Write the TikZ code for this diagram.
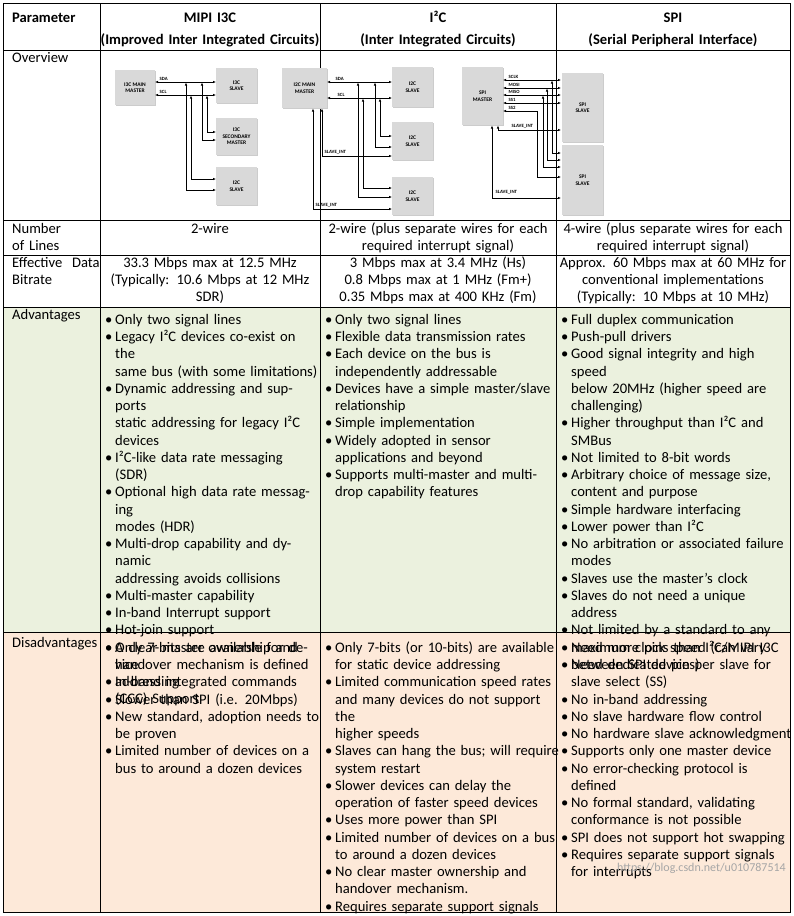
\documentclass[tikz,border=0pt]{standalone}
\usepackage{fontspec}
\setmainfont{Carlito}
\usetikzlibrary{arrows.meta}
\definecolor{advg}{HTML}{EBF1DE}
\definecolor{disr}{HTML}{FDE9D9}
\definecolor{boxg}{HTML}{D9D9D9}
\newcommand\bl[1]{\par\hangindent=10pt\hangafter=1\noindent\strut\makebox[10pt][l]{\textbullet}#1\strut\par}
\newcommand\tl[1]{\strut#1\strut\par}
\tikzset{
 cell/.style={anchor=north west,inner sep=0pt,text width=#1,align=left,font=\fontsize{14.6}{17.25}\selectfont},
 ccell/.style={anchor=north,inner sep=0pt,text width=#1,align=center,font=\fontsize{14.6}{17.25}\selectfont},
 grid/.style={line width=0.8pt},
 dev/.style={fill=boxg,draw=none,inner sep=0pt,align=center,font=\fontsize{5.5}{6.5}\selectfont\bfseries},
 sig/.style={line width=0.6pt,{Latex[length=3pt,width=2.5pt]}-{Latex[length=3pt,width=2.5pt]}},
 sigr/.style={line width=0.6pt,-{Latex[length=3pt,width=2.5pt]}},
 lab/.style={font=\fontsize{4.8}{5}\selectfont\bfseries,inner sep=0.5pt,anchor=south west},
}
\begin{document}
\begin{tikzpicture}[x=1pt,y=-1pt]
\useasboundingbox (0,0) rectangle (793,916);
\fill[white] (0,0) rectangle (793,916);
\fill[advg] (3,307) rectangle (790,632);
\fill[disr] (3,632) rectangle (790,912);
% grid
\draw[grid] (3,3) rectangle (790,912);
\foreach \x in {100,320,556} \draw[grid] (\x,3) -- (\x,912);
\foreach \y in {50,220,255,307,632} \draw[grid] (3,\y) -- (790,\y);
% headers
\node[cell=90pt,font=\fontsize{14.6}{17.25}\selectfont\bfseries] (h1) at (12,10) {\tl{Parameter}};
\node[ccell=220pt,font=\fontsize{14.6}{22}\selectfont\bfseries] (h2) at (210,7) {\tl{MIPI I3C}\tl{(Improved Inter Integrated Circuits)}};
\node[ccell=236pt,font=\fontsize{14.6}{22}\selectfont\bfseries] (h3) at (438,7) {\tl{I²C}\tl{(Inter Integrated Circuits)}};
\node[ccell=234pt,font=\fontsize{14.6}{22}\selectfont\bfseries] (h4) at (673,7) {\tl{SPI}\tl{(Serial Peripheral Interface)}};
% row labels
\node[cell=90pt] (r1) at (12,50) {\tl{Overview}};
\node[cell=90pt] (r2) at (12,221) {\tl{Number}\tl{of Lines}};
\node[cell=90pt] (r3) at (12,255) {\tl{Effective\ \ Data}\tl{Bitrate}};
\node[cell=90pt] (r4) at (12,307) {\tl{Advantages}};
\node[cell=90pt] (r5) at (12,635) {\tl{Disadvantages}};
% number of lines
\node[ccell=220pt] (n2) at (210,221) {\tl{2-wire}};
\node[ccell=236pt] (n3) at (438,221) {\tl{2-wire (plus separate wires for each}\tl{required interrupt signal)}};
\node[ccell=234pt] (n4) at (673,221) {\tl{4-wire (plus separate wires for each}\tl{required interrupt signal)}};
% bitrate
\node[ccell=220pt] (b2) at (210,255) {\tl{33.3 Mbps max at 12.5 MHz}\tl{(Typically: 10.6 Mbps at 12 MHz}\tl{SDR)}};
\node[ccell=236pt] (b3) at (438,255) {\tl{3 Mbps max at 3.4 MHz (Hs)}\tl{0.8 Mbps max at 1 MHz (Fm+)}\tl{0.35 Mbps max at 400 KHz (Fm)}};
\node[ccell=234pt] (b4) at (673,255) {\tl{Approx. 60 Mbps max at 60 MHz for}\tl{conventional implementations}\tl{(Typically: 10 Mbps at 10 MHz)}};
% advantages
\node[cell=214pt] (a2) at (105,307) {%
\bl{Only two signal lines}
\bl{Legacy I²C devices co-exist on the\newline same bus (with some limitations)}
\bl{Dynamic addressing and supports\newline static addressing for legacy I²C\newline devices}
\bl{I²C-like data rate messaging (SDR)}
\bl{Optional high data rate messaging\newline modes (HDR)}
\bl{Multi-drop capability and dynamic\newline addressing avoids collisions}
\bl{Multi-master capability}
\bl{In-band Interrupt support}
\bl{Hot-join support}
\bl{A clear master ownership and\newline handover mechanism is defined}
\bl{In-band integrated commands\newline (CCC) Support}};
\node[cell=234pt] (a3) at (325,307) {%
\bl{Only two signal lines}
\bl{Flexible data transmission rates}
\bl{Each device on the bus is\newline independently addressable}
\bl{Devices have a simple master/slave\newline relationship}
\bl{Simple implementation}
\bl{Widely adopted in sensor\newline applications and beyond}
\bl{Supports multi-master and multi-\newline drop capability features}};
\node[cell=232pt] (a4) at (561,307) {%
\bl{Full duplex communication}
\bl{Push-pull drivers}
\bl{Good signal integrity and high speed\newline below 20MHz (higher speed are\newline challenging)}
\bl{Higher throughput than I²C and\newline SMBus}
\bl{Not limited to 8-bit words}
\bl{Arbitrary choice of message size,\newline content and purpose}
\bl{Simple hardware interfacing}
\bl{Lower power than I²C}
\bl{No arbitration or associated failure\newline modes}
\bl{Slaves use the master's clock}
\bl{Slaves do not need a unique address}
\bl{Not limited by a standard to any\newline maximum clock speed (can vary\newline between SPI devices)}};
% disadvantages
\node[cell=214pt] (d2) at (105,635) {%
\bl{Only 7-bits are available for device\newline addressing}
\bl{Slower than SPI (i.e. 20Mbps)}
\bl{New standard, adoption needs to\newline be proven}
\bl{Limited number of devices on a\newline bus to around a dozen devices}};
\node[cell=234pt] (d3) at (325,635) {%
\bl{Only 7-bits (or 10-bits) are available\newline for static device addressing}
\bl{Limited communication speed rates\newline and many devices do not support the\newline higher speeds}
\bl{Slaves can hang the bus; will require\newline system restart}
\bl{Slower devices can delay the\newline operation of faster speed devices}
\bl{Uses more power than SPI}
\bl{Limited number of devices on a bus\newline to around a dozen devices}
\bl{No clear master ownership and\newline handover mechanism.}
\bl{Requires separate support signals for\newline interrupts}};
\node[cell=232pt] (d4) at (561,635) {%
\bl{Need more pins than I²C/MIPI I3C}
\bl{Need dedicated pin per slave for\newline slave select (SS)}
\bl{No in-band addressing}
\bl{No slave hardware flow control}
\bl{No hardware slave acknowledgment}
\bl{Supports only one master device}
\bl{No error-checking protocol is\newline defined}
\bl{No formal standard, validating\newline conformance is not possible}
\bl{SPI does not support hot swapping}
\bl{Requires separate support signals\newline for interrupts}};
\node[font=\fontsize{12}{12}\selectfont,text=gray!70,anchor=east,inner sep=0pt] (wm) at (786,868) {https://blog.csdn.net/u010787514};

% ---------- I3C diagram ----------
\fill[gray!40] (116,71) rectangle (156,106);
\node[dev,minimum width=40pt,minimum height=35pt] (m3) at (135,87.5) {I3C MAIN\\MASTER};
\fill[gray!40] (217,69) rectangle (258,104);
\node[dev,minimum width=41pt,minimum height=35pt] (s3) at (236.5,85.5) {I3C\\SLAVE};
\fill[gray!40] (217,119) rectangle (258,156);
\node[dev,minimum width=41pt,minimum height=37pt] (sm3) at (236.5,136.5) {I3C\\SECONDARY\\MASTER};
\fill[gray!40] (217,168) rectangle (258,206);
\node[dev,minimum width=41pt,minimum height=38pt] (is3) at (236.5,186) {I2C\\SLAVE};
\draw[sig] (155,82) -- (216,82); \node[lab] at (159,81) {SDA};
\draw[sig] (155,95) -- (216,95); \node[lab] at (159,94) {SCL};
\draw[sigr] (186,190) -- (186,82.5); \draw[sigr] (186,190) -- (216,190);
\draw[sigr] (191,179) -- (191,95.5); \draw[sigr] (191,179) -- (216,179);
\draw[sigr] (202,140) -- (202,82.5); \draw[sigr] (202,140) -- (216,140);
\draw[sigr] (207,132) -- (207,95.5); \draw[sigr] (207,132) -- (216,132);

% ---------- I2C diagram ----------
\fill[gray!40] (283,69) rectangle (328,109);
\node[dev,minimum width=45pt,minimum height=40pt] (m2) at (304.5,88) {I2C MAIN\\MASTER};
\fill[gray!40] (393,68) rectangle (434,108);
\node[dev,minimum width=41pt,minimum height=40pt] (s21) at (412.5,87) {I2C\\SLAVE};
\fill[gray!40] (393,123) rectangle (434,161);
\node[dev,minimum width=41pt,minimum height=38pt] (s22) at (412.5,141) {I2C\\SLAVE};
\fill[gray!40] (393,178) rectangle (434,216);
\node[dev,minimum width=41pt,minimum height=38pt] (s23) at (412.5,196) {I2C\\SLAVE};
\draw[sig] (327,82) -- (392,82); \node[lab] at (335,81) {SDA};
\draw[sig] (327,98) -- (392,98); \node[lab] at (337,97) {SCL};
\draw[sigr] (358,197) -- (358,82.5); \draw[sigr] (358,197) -- (392,197);
\draw[sigr] (363,188) -- (363,98.5); \draw[sigr] (363,188) -- (392,188);
\draw[sigr] (375,147) -- (375,82.5); \draw[sigr] (375,147) -- (392,147);
\draw[sigr] (380,136) -- (380,98.5); \draw[sigr] (380,136) -- (392,136);
\draw[sig] (322,108.5) -- (322,156) -- (392,156); \node[lab] at (324,155) {SLAVE\_INT};
\draw[sig] (313,108.5) -- (313,209) -- (392,209); \node[lab] at (315,208) {SLAVE\_INT};

% ---------- SPI diagram ----------
\fill[gray!40] (463,68) rectangle (504,126);
\node[dev,minimum width=41pt,minimum height=58pt] (ms) at (482.5,96) {SPI\\MASTER};
\fill[gray!40] (563,74) rectangle (604,143);
\node[dev,minimum width=41pt,minimum height=69pt] (ss1) at (582.5,107.5) {SPI\\SLAVE};
\fill[gray!40] (563,146) rectangle (604,216);
\node[dev,minimum width=41pt,minimum height=70pt] (ss2) at (582.5,180) {SPI\\SLAVE};
\draw[sig] (503,80) -- (561,80); \node[lab] at (508,79) {SCLK};
\draw[sig] (503,88) -- (561,88); \node[lab] at (508,87) {MOSI};
\draw[sig] (503,95) -- (561,95); \node[lab] at (508,94) {MISO};
\draw[sig] (503,103) -- (561,103); \node[lab] at (508,102) {SS1};
\draw[line width=0.6pt,{Latex[length=3pt,width=2.5pt]}-] (503,111) -- (537,111);
\node[lab] at (508,110) {SS2};
\draw[sigr] (537,111) -- (537,177) -- (561,177);
\draw[sigr] (552,153) -- (552,80.5); \draw[sigr] (552,153) -- (561,153);
\draw[sigr] (547,160) -- (547,88.5); \draw[sigr] (547,160) -- (561,160);
\draw[sigr] (543,167) -- (543,95.5); \draw[sigr] (543,167) -- (561,167);
\draw[sig] (498,125.5) -- (498,130) -- (561,130); \node[lab] at (511,129) {SLAVE\_INT};
\draw[sig] (492,125.5) -- (492,198) -- (561,198); \node[lab] at (495,195) {SLAVE\_INT};
\end{tikzpicture}
\end{document}
